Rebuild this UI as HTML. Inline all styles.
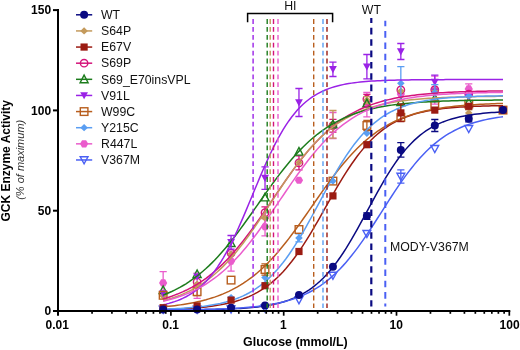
<!DOCTYPE html>
<html><head><meta charset="utf-8"><title>GCK Enzyme Activity</title>
<style>html,body{margin:0;padding:0;background:#fff}svg{display:block}</style></head>
<body>
<svg width="520" height="350" viewBox="0 0 520 350" font-family="'Liberation Sans', sans-serif">
<rect width="520" height="350" fill="#fff"/>
<g id="m-V367M">
<path d="M400.84,169.90V183.10M397.24,169.90H404.44M397.24,183.10H404.44" stroke="#4a60f4" stroke-width="1.3" fill="none"/>
<polygon points="159.25,306.30 167.05,306.30 163.15,313.40" fill="none" stroke="#4a60f4" stroke-width="1.4" stroke-linejoin="miter"/>
<polygon points="193.21,306.30 201.01,306.30 197.11,313.40" fill="none" stroke="#4a60f4" stroke-width="1.4" stroke-linejoin="miter"/>
<polygon points="227.16,305.90 234.96,305.90 231.06,313.00" fill="none" stroke="#4a60f4" stroke-width="1.4" stroke-linejoin="miter"/>
<polygon points="261.12,304.90 268.92,304.90 265.02,312.00" fill="none" stroke="#4a60f4" stroke-width="1.4" stroke-linejoin="miter"/>
<polygon points="295.07,296.70 302.87,296.70 298.97,303.80" fill="none" stroke="#4a60f4" stroke-width="1.4" stroke-linejoin="miter"/>
<polygon points="329.03,272.30 336.83,272.30 332.93,279.40" fill="none" stroke="#4a60f4" stroke-width="1.4" stroke-linejoin="miter"/>
<polygon points="362.99,230.50 370.79,230.50 366.89,237.60" fill="none" stroke="#4a60f4" stroke-width="1.4" stroke-linejoin="miter"/>
<polygon points="396.94,173.30 404.74,173.30 400.84,180.40" fill="none" stroke="#4a60f4" stroke-width="1.4" stroke-linejoin="miter"/>
<polygon points="430.90,145.50 438.70,145.50 434.80,152.60" fill="none" stroke="#4a60f4" stroke-width="1.4" stroke-linejoin="miter"/>
<polygon points="464.85,125.50 472.65,125.50 468.75,132.60" fill="none" stroke="#4a60f4" stroke-width="1.4" stroke-linejoin="miter"/>
</g>
<g id="m-R447L">
<path d="M163.15,271.70V294.10M159.55,271.70H166.75M159.55,294.10H166.75" stroke="#ea5ccc" stroke-width="1.3" fill="none"/>
<path d="M197.11,273.10V298.30M193.51,273.10H200.71M193.51,298.30H200.71" stroke="#ea5ccc" stroke-width="1.3" fill="none"/>
<path d="M231.06,251.10V271.10M227.46,251.10H234.66M227.46,271.10H234.66" stroke="#ea5ccc" stroke-width="1.3" fill="none"/>
<path d="M265.02,217.50V235.90M261.42,217.50H268.62M261.42,235.90H268.62" stroke="#ea5ccc" stroke-width="1.3" fill="none"/>
<path d="M332.93,112.50V138.50M329.33,112.50H336.53M329.33,138.50H336.53" stroke="#ea5ccc" stroke-width="1.3" fill="none"/>
<path d="M366.89,92.50V116.90M363.29,92.50H370.49M363.29,116.90H370.49" stroke="#ea5ccc" stroke-width="1.3" fill="none"/>
<path d="M434.80,76.10V104.10M431.20,76.10H438.40M431.20,104.10H438.40" stroke="#ea5ccc" stroke-width="1.3" fill="none"/>
<path d="M468.75,83.90V93.90M465.15,83.90H472.35M465.15,93.90H472.35" stroke="#ea5ccc" stroke-width="1.3" fill="none"/>
<polygon points="167.25,282.90 165.20,286.45 161.10,286.45 159.05,282.90 161.10,279.35 165.20,279.35" fill="#ea5ccc"/>
<polygon points="201.21,285.70 199.16,289.25 195.06,289.25 193.01,285.70 195.06,282.15 199.16,282.15" fill="#ea5ccc"/>
<polygon points="235.16,261.10 233.11,264.65 229.01,264.65 226.96,261.10 229.01,257.55 233.11,257.55" fill="#ea5ccc"/>
<polygon points="269.12,226.70 267.07,230.25 262.97,230.25 260.92,226.70 262.97,223.15 267.07,223.15" fill="#ea5ccc"/>
<polygon points="303.07,180.30 301.02,183.85 296.92,183.85 294.87,180.30 296.92,176.75 301.02,176.75" fill="#ea5ccc"/>
<polygon points="337.03,125.50 334.98,129.05 330.88,129.05 328.83,125.50 330.88,121.95 334.98,121.95" fill="#ea5ccc"/>
<polygon points="370.99,104.70 368.94,108.25 364.84,108.25 362.79,104.70 364.84,101.15 368.94,101.15" fill="#ea5ccc"/>
<polygon points="404.94,94.10 402.89,97.65 398.79,97.65 396.74,94.10 398.79,90.55 402.89,90.55" fill="#ea5ccc"/>
<polygon points="438.90,90.10 436.85,93.65 432.75,93.65 430.70,90.10 432.75,86.55 436.85,86.55" fill="#ea5ccc"/>
<polygon points="472.85,88.90 470.80,92.45 466.70,92.45 464.65,88.90 466.70,85.35 470.80,85.35" fill="#ea5ccc"/>
</g>
<g id="m-S69P">
<path d="M265.02,206.90V218.50M261.42,206.90H268.62M261.42,218.50H268.62" stroke="#d4147a" stroke-width="1.3" fill="none"/>
<path d="M298.97,155.90V169.90M295.37,155.90H302.57M295.37,169.90H302.57" stroke="#d4147a" stroke-width="1.3" fill="none"/>
<path d="M332.93,119.30V132.10M329.33,119.30H336.53M329.33,132.10H336.53" stroke="#d4147a" stroke-width="1.3" fill="none"/>
<path d="M366.89,94.30V103.90M363.29,94.30H370.49M363.29,103.90H370.49" stroke="#d4147a" stroke-width="1.3" fill="none"/>
<circle cx="197.11" cy="282.10" r="3.70" fill="none" stroke="#d4147a" stroke-width="1.4"/>
<circle cx="231.06" cy="253.10" r="3.70" fill="none" stroke="#d4147a" stroke-width="1.4"/>
<circle cx="265.02" cy="212.70" r="3.70" fill="none" stroke="#d4147a" stroke-width="1.4"/>
<circle cx="298.97" cy="162.90" r="3.70" fill="none" stroke="#d4147a" stroke-width="1.4"/>
<circle cx="332.93" cy="125.70" r="3.70" fill="none" stroke="#d4147a" stroke-width="1.4"/>
<circle cx="366.89" cy="99.10" r="3.70" fill="none" stroke="#d4147a" stroke-width="1.4"/>
<circle cx="400.84" cy="89.90" r="3.70" fill="none" stroke="#d4147a" stroke-width="1.4"/>
<circle cx="434.80" cy="89.70" r="3.70" fill="none" stroke="#d4147a" stroke-width="1.4"/>
<circle cx="468.75" cy="94.10" r="3.70" fill="none" stroke="#d4147a" stroke-width="1.4"/>
</g>
<g id="m-S64P">
<path d="M332.93,110.50V138.10M329.33,110.50H336.53M329.33,138.10H336.53" stroke="#c49a5c" stroke-width="1.3" fill="none"/>
<path d="M366.89,96.70V103.50M363.29,96.70H370.49M363.29,103.50H370.49" stroke="#c49a5c" stroke-width="1.3" fill="none"/>
<path d="M468.75,109.90V115.90M465.15,109.90H472.35M465.15,115.90H472.35" stroke="#c49a5c" stroke-width="1.3" fill="none"/>
<polygon points="159.35,296.10 163.15,292.50 166.95,296.10 163.15,299.70" fill="#c49a5c"/>
<polygon points="193.31,284.10 197.11,280.50 200.91,284.10 197.11,287.70" fill="#c49a5c"/>
<polygon points="227.26,254.10 231.06,250.50 234.86,254.10 231.06,257.70" fill="#c49a5c"/>
<polygon points="261.22,218.10 265.02,214.50 268.82,218.10 265.02,221.70" fill="#c49a5c"/>
<polygon points="295.17,162.50 298.97,158.90 302.77,162.50 298.97,166.10" fill="#c49a5c"/>
<polygon points="329.13,124.30 332.93,120.70 336.73,124.30 332.93,127.90" fill="#c49a5c"/>
<polygon points="363.09,100.10 366.89,96.50 370.69,100.10 366.89,103.70" fill="#c49a5c"/>
<polygon points="397.04,91.10 400.84,87.50 404.64,91.10 400.84,94.70" fill="#c49a5c"/>
<polygon points="431.00,90.10 434.80,86.50 438.60,90.10 434.80,93.70" fill="#c49a5c"/>
<polygon points="464.95,112.90 468.75,109.30 472.55,112.90 468.75,116.50" fill="#c49a5c"/>
</g>
<g id="m-S69_E70insVPL">
<polygon points="159.15,293.50 167.15,293.50 163.15,285.90" fill="none" stroke="#1c7c1c" stroke-width="1.4" stroke-linejoin="miter"/>
<polygon points="193.11,277.50 201.11,277.50 197.11,269.90" fill="none" stroke="#1c7c1c" stroke-width="1.4" stroke-linejoin="miter"/>
<polygon points="227.06,246.50 235.06,246.50 231.06,238.90" fill="none" stroke="#1c7c1c" stroke-width="1.4" stroke-linejoin="miter"/>
<polygon points="261.02,200.90 269.02,200.90 265.02,193.30" fill="none" stroke="#1c7c1c" stroke-width="1.4" stroke-linejoin="miter"/>
<polygon points="294.97,155.10 302.97,155.10 298.97,147.50" fill="none" stroke="#1c7c1c" stroke-width="1.4" stroke-linejoin="miter"/>
<polygon points="328.93,127.90 336.93,127.90 332.93,120.30" fill="none" stroke="#1c7c1c" stroke-width="1.4" stroke-linejoin="miter"/>
<polygon points="362.89,106.70 370.89,106.70 366.89,99.10" fill="none" stroke="#1c7c1c" stroke-width="1.4" stroke-linejoin="miter"/>
<polygon points="396.84,105.50 404.84,105.50 400.84,97.90" fill="none" stroke="#1c7c1c" stroke-width="1.4" stroke-linejoin="miter"/>
<polygon points="430.80,101.90 438.80,101.90 434.80,94.30" fill="none" stroke="#1c7c1c" stroke-width="1.4" stroke-linejoin="miter"/>
<polygon points="464.75,105.50 472.75,105.50 468.75,97.90" fill="none" stroke="#1c7c1c" stroke-width="1.4" stroke-linejoin="miter"/>
</g>
<g id="m-V91L">
<path d="M231.06,235.50V249.10M227.46,235.50H234.66M227.46,249.10H234.66" stroke="#9a22e6" stroke-width="1.3" fill="none"/>
<path d="M265.02,166.90V189.30M261.42,166.90H268.62M261.42,189.30H268.62" stroke="#9a22e6" stroke-width="1.3" fill="none"/>
<path d="M298.97,88.50V116.50M295.37,88.50H302.57M295.37,116.50H302.57" stroke="#9a22e6" stroke-width="1.3" fill="none"/>
<path d="M332.93,62.10V76.50M329.33,62.10H336.53M329.33,76.50H336.53" stroke="#9a22e6" stroke-width="1.3" fill="none"/>
<path d="M366.89,54.50V78.90M363.29,54.50H370.49M363.29,78.90H370.49" stroke="#9a22e6" stroke-width="1.3" fill="none"/>
<path d="M400.84,43.50V59.50M397.24,43.50H404.44M397.24,59.50H404.44" stroke="#9a22e6" stroke-width="1.3" fill="none"/>
<path d="M434.80,75.10V89.10M431.20,75.10H438.40M431.20,89.10H438.40" stroke="#9a22e6" stroke-width="1.3" fill="none"/>
<polygon points="159.25,290.20 167.05,290.20 163.15,297.40" fill="#9a22e6"/>
<polygon points="193.21,273.40 201.01,273.40 197.11,280.60" fill="#9a22e6"/>
<polygon points="227.16,239.00 234.96,239.00 231.06,246.20" fill="#9a22e6"/>
<polygon points="261.12,174.80 268.92,174.80 265.02,182.00" fill="#9a22e6"/>
<polygon points="295.07,99.20 302.87,99.20 298.97,106.40" fill="#9a22e6"/>
<polygon points="329.03,66.00 336.83,66.00 332.93,73.20" fill="#9a22e6"/>
<polygon points="362.99,63.40 370.79,63.40 366.89,70.60" fill="#9a22e6"/>
<polygon points="396.94,48.20 404.74,48.20 400.84,55.40" fill="#9a22e6"/>
<polygon points="430.90,78.80 438.70,78.80 434.80,86.00" fill="#9a22e6"/>
<polygon points="464.85,93.80 472.65,93.80 468.75,101.00" fill="#9a22e6"/>
</g>
<g id="m-Y215C">
<path d="M298.97,233.90V241.90M295.37,233.90H302.57M295.37,241.90H302.57" stroke="#5a9ef2" stroke-width="1.3" fill="none"/>
<path d="M400.84,66.70V99.90M397.24,66.70H404.44M397.24,99.90H404.44" stroke="#5a9ef2" stroke-width="1.3" fill="none"/>
<path d="M434.80,84.70V100.70M431.20,84.70H438.40M431.20,100.70H438.40" stroke="#5a9ef2" stroke-width="1.3" fill="none"/>
<polygon points="159.35,308.10 163.15,304.50 166.95,308.10 163.15,311.70" fill="#5a9ef2"/>
<polygon points="193.31,306.10 197.11,302.50 200.91,306.10 197.11,309.70" fill="#5a9ef2"/>
<polygon points="227.26,297.50 231.06,293.90 234.86,297.50 231.06,301.10" fill="#5a9ef2"/>
<polygon points="261.22,277.60 265.02,274.00 268.82,277.60 265.02,281.20" fill="#5a9ef2"/>
<polygon points="295.17,237.90 298.97,234.30 302.77,237.90 298.97,241.50" fill="#5a9ef2"/>
<polygon points="329.13,181.10 332.93,177.50 336.73,181.10 332.93,184.70" fill="#5a9ef2"/>
<polygon points="363.09,133.30 366.89,129.70 370.69,133.30 366.89,136.90" fill="#5a9ef2"/>
<polygon points="397.04,83.30 400.84,79.70 404.64,83.30 400.84,86.90" fill="#5a9ef2"/>
<polygon points="431.00,92.70 434.80,89.10 438.60,92.70 434.80,96.30" fill="#5a9ef2"/>
<polygon points="464.95,96.10 468.75,92.50 472.55,96.10 468.75,99.70" fill="#5a9ef2"/>
</g>
<g id="m-W99C">
<path d="M197.11,287.70V295.70M193.51,287.70H200.71M193.51,295.70H200.71" stroke="#b85e1e" stroke-width="1.3" fill="none"/>
<path d="M265.02,263.90V275.10M261.42,263.90H268.62M261.42,275.10H268.62" stroke="#b85e1e" stroke-width="1.3" fill="none"/>
<path d="M366.89,120.50V130.50M363.29,120.50H370.49M363.29,130.50H370.49" stroke="#b85e1e" stroke-width="1.3" fill="none"/>
<rect x="159.35" y="291.50" width="7.60" height="7.60" fill="none" stroke="#b85e1e" stroke-width="1.4"/>
<rect x="193.31" y="287.90" width="7.60" height="7.60" fill="none" stroke="#b85e1e" stroke-width="1.4"/>
<rect x="227.26" y="276.30" width="7.60" height="7.60" fill="none" stroke="#b85e1e" stroke-width="1.4"/>
<rect x="261.22" y="265.70" width="7.60" height="7.60" fill="none" stroke="#b85e1e" stroke-width="1.4"/>
<rect x="295.17" y="225.70" width="7.60" height="7.60" fill="none" stroke="#b85e1e" stroke-width="1.4"/>
<rect x="329.13" y="177.30" width="7.60" height="7.60" fill="none" stroke="#b85e1e" stroke-width="1.4"/>
<rect x="363.09" y="121.70" width="7.60" height="7.60" fill="none" stroke="#b85e1e" stroke-width="1.4"/>
<rect x="397.04" y="113.50" width="7.60" height="7.60" fill="none" stroke="#b85e1e" stroke-width="1.4"/>
<rect x="431.00" y="100.90" width="7.60" height="7.60" fill="none" stroke="#b85e1e" stroke-width="1.4"/>
<rect x="464.95" y="100.30" width="7.60" height="7.60" fill="none" stroke="#b85e1e" stroke-width="1.4"/>
<rect x="499.21" y="106.30" width="7.60" height="7.60" fill="none" stroke="#b85e1e" stroke-width="1.4"/>
</g>
<polyline id="c-WT" points="163.15,310.00 166.01,309.99 168.86,309.98 171.72,309.97 174.57,309.95 177.43,309.94 180.29,309.92 183.14,309.90 186.00,309.87 188.85,309.85 191.71,309.82 194.57,309.79 197.42,309.75 200.28,309.71 203.13,309.67 205.99,309.62 208.85,309.57 211.70,309.51 214.56,309.44 217.41,309.37 220.27,309.29 223.13,309.20 225.98,309.10 228.84,308.98 231.69,308.86 234.55,308.72 237.41,308.57 240.26,308.39 243.12,308.20 245.97,307.99 248.83,307.76 251.68,307.50 254.54,307.21 257.40,306.89 260.25,306.54 263.11,306.14 265.96,305.71 268.82,305.22 271.68,304.69 274.53,304.10 277.39,303.45 280.24,302.73 283.10,301.93 285.96,301.05 288.81,300.09 291.67,299.02 294.52,297.85 297.38,296.57 300.24,295.16 303.09,293.61 305.95,291.93 308.80,290.09 311.66,288.09 314.52,285.91 317.37,283.55 320.23,281.00 323.08,278.24 325.94,275.29 328.80,272.11 331.65,268.73 334.51,265.12 337.36,261.30 340.22,257.26 343.08,253.02 345.93,248.57 348.79,243.95 351.64,239.15 354.50,234.20 357.36,229.13 360.21,223.96 363.07,218.70 365.92,213.41 368.78,208.09 371.64,202.79 374.49,197.53 377.35,192.34 380.20,187.26 383.06,182.29 385.92,177.48 388.77,172.82 391.63,168.36 394.48,164.09 397.34,160.02 400.20,156.17 403.05,152.54 405.91,149.12 408.76,145.92 411.62,142.93 414.48,140.15 417.33,137.58 420.19,135.19 423.04,132.99 425.90,130.96 428.75,129.10 431.61,127.40 434.47,125.84 437.32,124.41 440.18,123.11 443.03,121.93 445.89,120.85 448.75,119.87 451.60,118.98 454.46,118.17 457.31,117.44 460.17,116.78 463.03,116.18 465.88,115.64 468.74,115.15 471.59,114.71 474.45,114.31 477.31,113.95 480.16,113.63 483.02,113.34 485.87,113.07 488.73,112.84 491.59,112.62 494.44,112.43 497.30,112.25 500.15,112.10 503.01,111.96" fill="none" stroke="#0a0a82" stroke-width="1.5"/>
<polyline id="c-E67V" points="163.15,309.36 166.01,309.28 168.86,309.20 171.72,309.11 174.57,309.00 177.43,308.89 180.29,308.77 183.14,308.63 186.00,308.48 188.85,308.31 191.71,308.13 194.57,307.92 197.42,307.70 200.28,307.45 203.13,307.18 205.99,306.88 208.85,306.55 211.70,306.19 214.56,305.79 217.41,305.35 220.27,304.87 223.13,304.34 225.98,303.76 228.84,303.13 231.69,302.43 234.55,301.66 237.41,300.82 240.26,299.91 243.12,298.91 245.97,297.81 248.83,296.62 251.68,295.31 254.54,293.90 257.40,292.36 260.25,290.69 263.11,288.88 265.96,286.92 268.82,284.81 271.68,282.53 274.53,280.08 277.39,277.45 280.24,274.65 283.10,271.65 285.96,268.46 288.81,265.08 291.67,261.51 294.52,257.75 297.38,253.80 300.24,249.67 303.09,245.37 305.95,240.91 308.80,236.30 311.66,231.56 314.52,226.72 317.37,221.78 320.23,216.78 323.08,211.73 325.94,206.66 328.80,201.60 331.65,196.57 334.51,191.59 337.36,186.69 340.22,181.88 343.08,177.19 345.93,172.64 348.79,168.24 351.64,164.01 354.50,159.95 357.36,156.07 360.21,152.38 363.07,148.88 365.92,145.57 368.78,142.46 371.64,139.54 374.49,136.80 377.35,134.24 380.20,131.86 383.06,129.65 385.92,127.60 388.77,125.70 391.63,123.94 394.48,122.32 397.34,120.83 400.20,119.46 403.05,118.20 405.91,117.05 408.76,115.99 411.62,115.02 414.48,114.13 417.33,113.33 420.19,112.59 423.04,111.91 425.90,111.30 428.75,110.74 431.61,110.23 434.47,109.76 437.32,109.34 440.18,108.96 443.03,108.61 445.89,108.29 448.75,108.00 451.60,107.74 454.46,107.51 457.31,107.29 460.17,107.09 463.03,106.92 465.88,106.75 468.74,106.61 471.59,106.48 474.45,106.36 477.31,106.25 480.16,106.15 483.02,106.06 485.87,105.98 488.73,105.90 491.59,105.84 494.44,105.78 497.30,105.72 500.15,105.67 503.01,105.63" fill="none" stroke="#9b1b12" stroke-width="1.5"/>
<polyline id="c-S69P" points="163.15,298.92 166.01,298.07 168.86,297.17 171.72,296.21 174.57,295.17 177.43,294.07 180.29,292.89 183.14,291.64 186.00,290.30 188.85,288.87 191.71,287.36 194.57,285.74 197.42,284.03 200.28,282.22 203.13,280.30 205.99,278.27 208.85,276.12 211.70,273.86 214.56,271.48 217.41,268.98 220.27,266.35 223.13,263.60 225.98,260.73 228.84,257.73 231.69,254.61 234.55,251.37 237.41,248.01 240.26,244.54 243.12,240.96 245.97,237.27 248.83,233.49 251.68,229.62 254.54,225.67 257.40,221.65 260.25,217.57 263.11,213.44 265.96,209.27 268.82,205.08 271.68,200.87 274.53,196.66 277.39,192.46 280.24,188.28 283.10,184.14 285.96,180.05 288.81,176.01 291.67,172.04 294.52,168.14 297.38,164.34 300.24,160.62 303.09,157.01 305.95,153.51 308.80,150.12 311.66,146.84 314.52,143.69 317.37,140.65 320.23,137.75 323.08,134.96 325.94,132.30 328.80,129.76 331.65,127.35 334.51,125.05 337.36,122.87 340.22,120.81 343.08,118.86 345.93,117.01 348.79,115.27 351.64,113.63 354.50,112.09 357.36,110.64 360.21,109.28 363.07,108.00 365.92,106.80 368.78,105.67 371.64,104.62 374.49,103.64 377.35,102.72 380.20,101.86 383.06,101.06 385.92,100.31 388.77,99.61 391.63,98.96 394.48,98.35 397.34,97.79 400.20,97.26 403.05,96.77 405.91,96.32 408.76,95.89 411.62,95.50 414.48,95.14 417.33,94.80 420.19,94.48 423.04,94.19 425.90,93.91 428.75,93.66 431.61,93.43 434.47,93.21 437.32,93.01 440.18,92.82 443.03,92.65 445.89,92.48 448.75,92.34 451.60,92.20 454.46,92.07 457.31,91.95 460.17,91.84 463.03,91.74 465.88,91.64 468.74,91.55 471.59,91.47 474.45,91.39 477.31,91.32 480.16,91.26 483.02,91.20 485.87,91.14 488.73,91.09 491.59,91.04 494.44,91.00 497.30,90.96 500.15,90.92 503.01,90.88" fill="none" stroke="#d4147a" stroke-width="1.5"/>
<polyline id="c-S64P" points="163.15,300.66 166.01,299.89 168.86,299.07 171.72,298.18 174.57,297.22 177.43,296.20 180.29,295.10 183.14,293.92 186.00,292.65 188.85,291.30 191.71,289.85 194.57,288.30 197.42,286.65 200.28,284.89 203.13,283.01 205.99,281.02 208.85,278.90 211.70,276.66 214.56,274.29 217.41,271.79 220.27,269.15 223.13,266.38 225.98,263.47 228.84,260.42 231.69,257.23 234.55,253.91 237.41,250.46 240.26,246.88 243.12,243.18 245.97,239.37 248.83,235.45 251.68,231.43 254.54,227.32 257.40,223.14 260.25,218.89 263.11,214.59 265.96,210.25 268.82,205.89 271.68,201.51 274.53,197.15 277.39,192.80 280.24,188.49 283.10,184.22 285.96,180.02 288.81,175.89 291.67,171.84 294.52,167.89 297.38,164.04 300.24,160.31 303.09,156.70 305.95,153.21 308.80,149.85 311.66,146.63 314.52,143.54 317.37,140.59 320.23,137.77 323.08,135.10 325.94,132.56 328.80,130.15 331.65,127.87 334.51,125.72 337.36,123.69 340.22,121.78 343.08,119.99 345.93,118.30 348.79,116.73 351.64,115.25 354.50,113.87 357.36,112.58 360.21,111.37 363.07,110.25 365.92,109.20 368.78,108.23 371.64,107.32 374.49,106.48 377.35,105.70 380.20,104.97 383.06,104.30 385.92,103.67 388.77,103.09 391.63,102.56 394.48,102.06 397.34,101.60 400.20,101.18 403.05,100.78 405.91,100.42 408.76,100.08 411.62,99.77 414.48,99.48 417.33,99.21 420.19,98.97 423.04,98.74 425.90,98.53 428.75,98.34 431.61,98.16 434.47,98.00 437.32,97.84 440.18,97.70 443.03,97.57 445.89,97.45 448.75,97.34 451.60,97.24 454.46,97.15 457.31,97.06 460.17,96.98 463.03,96.91 465.88,96.84 468.74,96.78 471.59,96.72 474.45,96.67 477.31,96.62 480.16,96.57 483.02,96.53 485.87,96.49 488.73,96.46 491.59,96.42 494.44,96.39 497.30,96.37 500.15,96.34 503.01,96.32" fill="none" stroke="#c49a5c" stroke-width="1.5"/>
<polyline id="c-S69_E70insVPL" points="163.15,295.09 166.01,293.97 168.86,292.77 171.72,291.50 174.57,290.14 177.43,288.69 180.29,287.15 183.14,285.51 186.00,283.78 188.85,281.93 191.71,279.98 194.57,277.92 197.42,275.75 200.28,273.46 203.13,271.05 205.99,268.52 208.85,265.87 211.70,263.09 214.56,260.20 217.41,257.18 220.27,254.05 223.13,250.79 225.98,247.43 228.84,243.96 231.69,240.39 234.55,236.72 237.41,232.97 240.26,229.14 243.12,225.24 245.97,221.28 248.83,217.27 251.68,213.23 254.54,209.16 257.40,205.08 260.25,201.00 263.11,196.93 265.96,192.88 268.82,188.87 271.68,184.91 274.53,181.00 277.39,177.16 280.24,173.41 283.10,169.73 285.96,166.16 288.81,162.68 291.67,159.31 294.52,156.05 297.38,152.91 300.24,149.88 303.09,146.98 305.95,144.20 308.80,141.54 311.66,139.00 314.52,136.58 317.37,134.28 320.23,132.10 323.08,130.03 325.94,128.07 328.80,126.22 331.65,124.48 334.51,122.84 337.36,121.29 340.22,119.84 343.08,118.47 345.93,117.19 348.79,115.99 351.64,114.86 354.50,113.81 357.36,112.83 360.21,111.91 363.07,111.05 365.92,110.25 368.78,109.50 371.64,108.81 374.49,108.16 377.35,107.56 380.20,107.00 383.06,106.47 385.92,105.99 388.77,105.54 391.63,105.12 394.48,104.73 397.34,104.37 400.20,104.03 403.05,103.72 405.91,103.43 408.76,103.16 411.62,102.91 414.48,102.68 417.33,102.47 420.19,102.27 423.04,102.08 425.90,101.91 428.75,101.76 431.61,101.61 434.47,101.47 437.32,101.35 440.18,101.23 443.03,101.12 445.89,101.02 448.75,100.93 451.60,100.85 454.46,100.77 457.31,100.69 460.17,100.62 463.03,100.56 465.88,100.50 468.74,100.45 471.59,100.40 474.45,100.35 477.31,100.31 480.16,100.27 483.02,100.23 485.87,100.20 488.73,100.17 491.59,100.14 494.44,100.11 497.30,100.09 500.15,100.06 503.01,100.04" fill="none" stroke="#1c7c1c" stroke-width="1.5"/>
<polyline id="c-V91L" points="163.15,304.79 166.01,304.13 168.86,303.40 171.72,302.57 174.57,301.65 177.43,300.62 180.29,299.47 183.14,298.19 186.00,296.76 188.85,295.17 191.71,293.41 194.57,291.46 197.42,289.31 200.28,286.93 203.13,284.31 205.99,281.44 208.85,278.30 211.70,274.87 214.56,271.15 217.41,267.12 220.27,262.77 223.13,258.11 225.98,253.13 228.84,247.84 231.69,242.26 234.55,236.39 237.41,230.26 240.26,223.90 243.12,217.35 245.97,210.64 248.83,203.82 251.68,196.94 254.54,190.04 257.40,183.18 260.25,176.40 263.11,169.75 265.96,163.27 268.82,156.99 271.68,150.96 274.53,145.20 277.39,139.73 280.24,134.56 283.10,129.70 285.96,125.16 288.81,120.94 291.67,117.03 294.52,113.42 297.38,110.11 300.24,107.07 303.09,104.30 305.95,101.77 308.80,99.48 311.66,97.41 314.52,95.53 317.37,93.84 320.23,92.32 323.08,90.95 325.94,89.72 328.80,88.62 331.65,87.63 334.51,86.75 337.36,85.96 340.22,85.25 343.08,84.62 345.93,84.06 348.79,83.56 351.64,83.12 354.50,82.72 357.36,82.37 360.21,82.05 363.07,81.77 365.92,81.52 368.78,81.30 371.64,81.11 374.49,80.93 377.35,80.78 380.20,80.64 383.06,80.52 385.92,80.41 388.77,80.31 391.63,80.23 394.48,80.15 397.34,80.08 400.20,80.02 403.05,79.97 405.91,79.92 408.76,79.88 411.62,79.84 414.48,79.81 417.33,79.78 420.19,79.75 423.04,79.73 425.90,79.71 428.75,79.69 431.61,79.68 434.47,79.66 437.32,79.65 440.18,79.64 443.03,79.63 445.89,79.62 448.75,79.61 451.60,79.60 454.46,79.60 457.31,79.59 460.17,79.59 463.03,79.58 465.88,79.58 468.74,79.58 471.59,79.57 474.45,79.57 477.31,79.57 480.16,79.57 483.02,79.56 485.87,79.56 488.73,79.56 491.59,79.56 494.44,79.56 497.30,79.56 500.15,79.56 503.01,79.56" fill="none" stroke="#9a22e6" stroke-width="1.5"/>
<polyline id="c-W99C" points="163.15,306.83 166.01,306.56 168.86,306.27 171.72,305.96 174.57,305.63 177.43,305.27 180.29,304.88 183.14,304.46 186.00,304.01 188.85,303.52 191.71,303.00 194.57,302.43 197.42,301.83 200.28,301.17 203.13,300.47 205.99,299.72 208.85,298.90 211.70,298.03 214.56,297.10 217.41,296.10 220.27,295.03 223.13,293.88 225.98,292.65 228.84,291.34 231.69,289.95 234.55,288.45 237.41,286.87 240.26,285.18 243.12,283.39 245.97,281.49 248.83,279.47 251.68,277.34 254.54,275.09 257.40,272.72 260.25,270.23 263.11,267.61 265.96,264.87 268.82,262.00 271.68,259.01 274.53,255.89 277.39,252.65 280.24,249.30 283.10,245.83 285.96,242.26 288.81,238.59 291.67,234.82 294.52,230.98 297.38,227.06 300.24,223.07 303.09,219.04 305.95,214.96 308.80,210.86 311.66,206.75 314.52,202.63 317.37,198.52 320.23,194.44 323.08,190.40 325.94,186.40 328.80,182.46 331.65,178.60 334.51,174.81 337.36,171.12 340.22,167.52 343.08,164.03 345.93,160.65 348.79,157.38 351.64,154.24 354.50,151.21 357.36,148.31 360.21,145.54 363.07,142.89 365.92,140.37 368.78,137.97 371.64,135.69 374.49,133.53 377.35,131.49 380.20,129.56 383.06,127.74 385.92,126.03 388.77,124.42 391.63,122.91 394.48,121.49 397.34,120.16 400.20,118.91 403.05,117.74 405.91,116.65 408.76,115.64 411.62,114.69 414.48,113.80 417.33,112.98 420.19,112.21 423.04,111.49 425.90,110.83 428.75,110.21 431.61,109.63 434.47,109.10 437.32,108.61 440.18,108.15 443.03,107.72 445.89,107.32 448.75,106.96 451.60,106.62 454.46,106.30 457.31,106.01 460.17,105.74 463.03,105.49 465.88,105.25 468.74,105.04 471.59,104.84 474.45,104.66 477.31,104.49 480.16,104.33 483.02,104.18 485.87,104.05 488.73,103.92 491.59,103.81 494.44,103.70 497.30,103.60 500.15,103.51 503.01,103.43" fill="none" stroke="#b85e1e" stroke-width="1.5"/>
<polyline id="c-Y215C" points="163.15,309.16 166.01,309.06 168.86,308.95 171.72,308.83 174.57,308.70 177.43,308.56 180.29,308.40 183.14,308.22 186.00,308.03 188.85,307.81 191.71,307.58 194.57,307.32 197.42,307.03 200.28,306.72 203.13,306.37 205.99,305.99 208.85,305.57 211.70,305.11 214.56,304.60 217.41,304.04 220.27,303.43 223.13,302.75 225.98,302.02 228.84,301.21 231.69,300.32 234.55,299.35 237.41,298.29 240.26,297.13 243.12,295.87 245.97,294.49 248.83,292.99 251.68,291.36 254.54,289.59 257.40,287.67 260.25,285.60 263.11,283.36 265.96,280.95 268.82,278.35 271.68,275.57 274.53,272.60 277.39,269.42 280.24,266.05 283.10,262.47 285.96,258.69 288.81,254.71 291.67,250.53 294.52,246.16 297.38,241.62 300.24,236.90 303.09,232.04 305.95,227.05 308.80,221.94 311.66,216.74 314.52,211.47 317.37,206.16 320.23,200.83 323.08,195.51 325.94,190.23 328.80,185.01 331.65,179.87 334.51,174.84 337.36,169.94 340.22,165.19 343.08,160.60 345.93,156.18 348.79,151.96 351.64,147.92 354.50,144.08 357.36,140.45 360.21,137.02 363.07,133.80 365.92,130.77 368.78,127.94 371.64,125.29 374.49,122.83 377.35,120.55 380.20,118.43 383.06,116.47 385.92,114.66 388.77,113.00 391.63,111.46 394.48,110.06 397.34,108.76 400.20,107.58 403.05,106.49 405.91,105.50 408.76,104.59 411.62,103.76 414.48,103.00 417.33,102.31 420.19,101.69 423.04,101.11 425.90,100.59 428.75,100.12 431.61,99.69 434.47,99.30 437.32,98.94 440.18,98.62 443.03,98.32 445.89,98.06 448.75,97.81 451.60,97.59 454.46,97.40 457.31,97.21 460.17,97.05 463.03,96.90 465.88,96.77 468.74,96.65 471.59,96.53 474.45,96.43 477.31,96.34 480.16,96.26 483.02,96.19 485.87,96.12 488.73,96.06 491.59,96.00 494.44,95.95 497.30,95.91 500.15,95.86 503.01,95.83" fill="none" stroke="#5a9ef2" stroke-width="1.5"/>
<polyline id="c-R447L" points="163.15,301.24 166.01,300.55 168.86,299.82 171.72,299.03 174.57,298.18 177.43,297.28 180.29,296.31 183.14,295.27 186.00,294.16 188.85,292.97 191.71,291.70 194.57,290.35 197.42,288.91 200.28,287.37 203.13,285.74 205.99,284.01 208.85,282.17 211.70,280.23 214.56,278.16 217.41,275.99 220.27,273.69 223.13,271.27 225.98,268.73 228.84,266.06 231.69,263.27 234.55,260.35 237.41,257.30 240.26,254.13 243.12,250.83 245.97,247.42 248.83,243.89 251.68,240.26 254.54,236.51 257.40,232.68 260.25,228.75 263.11,224.75 265.96,220.68 268.82,216.55 271.68,212.38 274.53,208.17 277.39,203.94 280.24,199.70 283.10,195.47 285.96,191.25 288.81,187.06 291.67,182.91 294.52,178.82 297.38,174.79 300.24,170.83 303.09,166.96 305.95,163.18 308.80,159.50 311.66,155.93 314.52,152.47 317.37,149.12 320.23,145.90 323.08,142.81 325.94,139.83 328.80,136.99 331.65,134.27 334.51,131.68 337.36,129.21 340.22,126.86 343.08,124.64 345.93,122.53 348.79,120.54 351.64,118.66 354.50,116.88 357.36,115.21 360.21,113.64 363.07,112.16 365.92,110.77 368.78,109.47 371.64,108.25 374.49,107.11 377.35,106.05 380.20,105.05 383.06,104.12 385.92,103.25 388.77,102.44 391.63,101.68 394.48,100.98 397.34,100.32 400.20,99.71 403.05,99.14 405.91,98.61 408.76,98.12 411.62,97.66 414.48,97.24 417.33,96.84 420.19,96.48 423.04,96.14 425.90,95.82 428.75,95.53 431.61,95.26 434.47,95.01 437.32,94.77 440.18,94.56 443.03,94.36 445.89,94.17 448.75,94.00 451.60,93.84 454.46,93.69 457.31,93.55 460.17,93.43 463.03,93.31 465.88,93.20 468.74,93.10 471.59,93.01 474.45,92.92 477.31,92.84 480.16,92.76 483.02,92.70 485.87,92.63 488.73,92.57 491.59,92.52 494.44,92.47 497.30,92.42 500.15,92.38 503.01,92.34" fill="none" stroke="#ea5ccc" stroke-width="1.5"/>
<polyline id="c-V367M" points="163.15,309.91 166.01,309.89 168.86,309.87 171.72,309.85 174.57,309.83 177.43,309.80 180.29,309.78 183.14,309.75 186.00,309.71 188.85,309.68 191.71,309.64 194.57,309.59 197.42,309.54 200.28,309.49 203.13,309.43 205.99,309.37 208.85,309.30 211.70,309.22 214.56,309.14 217.41,309.05 220.27,308.95 223.13,308.84 225.98,308.72 228.84,308.59 231.69,308.45 234.55,308.30 237.41,308.13 240.26,307.94 243.12,307.74 245.97,307.52 248.83,307.27 251.68,307.01 254.54,306.72 257.40,306.41 260.25,306.06 263.11,305.69 265.96,305.28 268.82,304.83 271.68,304.35 274.53,303.82 277.39,303.24 280.24,302.61 283.10,301.93 285.96,301.19 288.81,300.38 291.67,299.51 294.52,298.56 297.38,297.53 300.24,296.42 303.09,295.21 305.95,293.92 308.80,292.51 311.66,291.00 314.52,289.38 317.37,287.63 320.23,285.76 323.08,283.75 325.94,281.61 328.80,279.32 331.65,276.89 334.51,274.30 337.36,271.56 340.22,268.67 343.08,265.62 345.93,262.41 348.79,259.05 351.64,255.53 354.50,251.88 357.36,248.08 360.21,244.15 363.07,240.10 365.92,235.95 368.78,231.70 371.64,227.37 374.49,222.97 377.35,218.53 380.20,214.06 383.06,209.57 385.92,205.10 388.77,200.65 391.63,196.24 394.48,191.90 397.34,187.63 400.20,183.45 403.05,179.38 405.91,175.43 408.76,171.61 411.62,167.92 414.48,164.38 417.33,160.99 420.19,157.75 423.04,154.66 425.90,151.74 428.75,148.97 431.61,146.35 434.47,143.89 437.32,141.57 440.18,139.40 443.03,137.37 445.89,135.47 448.75,133.70 451.60,132.05 454.46,130.52 457.31,129.10 460.17,127.78 463.03,126.55 465.88,125.42 468.74,124.38 471.59,123.42 474.45,122.53 477.31,121.71 480.16,120.96 483.02,120.26 485.87,119.62 488.73,119.04 491.59,118.50 494.44,118.00 497.30,117.55 500.15,117.13 503.01,116.75" fill="none" stroke="#4a60f4" stroke-width="1.5"/>
<g id="m-E67V">
<path d="M400.84,104.10V121.70M397.24,104.10H404.44M397.24,121.70H404.44" stroke="#9b1b12" stroke-width="1.3" fill="none"/>
<rect x="159.55" y="304.10" width="7.20" height="7.20" fill="#9b1b12"/>
<rect x="193.51" y="302.30" width="7.20" height="7.20" fill="#9b1b12"/>
<rect x="227.46" y="296.50" width="7.20" height="7.20" fill="#9b1b12"/>
<rect x="261.42" y="282.10" width="7.20" height="7.20" fill="#9b1b12"/>
<rect x="295.37" y="247.90" width="7.20" height="7.20" fill="#9b1b12"/>
<rect x="329.33" y="192.30" width="7.20" height="7.20" fill="#9b1b12"/>
<rect x="363.29" y="141.10" width="7.20" height="7.20" fill="#9b1b12"/>
<rect x="397.24" y="109.30" width="7.20" height="7.20" fill="#9b1b12"/>
<rect x="431.20" y="106.50" width="7.20" height="7.20" fill="#9b1b12"/>
<rect x="465.15" y="102.70" width="7.20" height="7.20" fill="#9b1b12"/>
<rect x="499.41" y="106.50" width="7.20" height="7.20" fill="#9b1b12"/>
</g>
<g id="m-WT">
<path d="M366.89,212.90V219.30M363.29,212.90H370.49M363.29,219.30H370.49" stroke="#0a0a82" stroke-width="1.3" fill="none"/>
<path d="M400.84,142.70V157.10M397.24,142.70H404.44M397.24,157.10H404.44" stroke="#0a0a82" stroke-width="1.3" fill="none"/>
<path d="M434.80,119.50V131.50M431.20,119.50H438.40M431.20,131.50H438.40" stroke="#0a0a82" stroke-width="1.3" fill="none"/>
<path d="M468.75,115.50V121.90M465.15,115.50H472.35M465.15,121.90H472.35" stroke="#0a0a82" stroke-width="1.3" fill="none"/>
<circle cx="163.15" cy="309.50" r="4.00" fill="#0a0a82"/>
<circle cx="197.11" cy="309.50" r="4.00" fill="#0a0a82"/>
<circle cx="231.06" cy="307.70" r="4.00" fill="#0a0a82"/>
<circle cx="265.02" cy="305.50" r="4.00" fill="#0a0a82"/>
<circle cx="298.97" cy="294.90" r="4.00" fill="#0a0a82"/>
<circle cx="332.93" cy="266.70" r="4.00" fill="#0a0a82"/>
<circle cx="366.89" cy="216.10" r="4.00" fill="#0a0a82"/>
<circle cx="400.84" cy="149.90" r="4.00" fill="#0a0a82"/>
<circle cx="434.80" cy="125.50" r="4.00" fill="#0a0a82"/>
<circle cx="468.75" cy="118.70" r="4.00" fill="#0a0a82"/>
<circle cx="503.01" cy="110.10" r="4.00" fill="#0a0a82"/>
</g>
<line x1="371.3" y1="17.9" x2="371.3" y2="306.5" stroke="#0a0a82" stroke-width="2.2" stroke-dasharray="6.6 4.75" stroke-dashoffset="1.4"/>
<line x1="270.2" y1="19.1" x2="270.2" y2="308" stroke="#c49a5c" stroke-width="1.4" stroke-dasharray="4.8 3.1" stroke-dashoffset="0"/>
<line x1="327.0" y1="19.1" x2="327.0" y2="308" stroke="#9b1b12" stroke-width="1.4" stroke-dasharray="4.8 3.1" stroke-dashoffset="0"/>
<line x1="273.5" y1="19.1" x2="273.5" y2="308" stroke="#d4147a" stroke-width="1.4" stroke-dasharray="4.8 3.1" stroke-dashoffset="0"/>
<line x1="267.2" y1="19.1" x2="267.2" y2="308" stroke="#1c7c1c" stroke-width="1.4" stroke-dasharray="4.8 3.1" stroke-dashoffset="0"/>
<line x1="253.1" y1="19.1" x2="253.1" y2="308" stroke="#9a22e6" stroke-width="1.4" stroke-dasharray="4.8 3.1" stroke-dashoffset="0"/>
<line x1="313.7" y1="19.1" x2="313.7" y2="308" stroke="#b85e1e" stroke-width="1.4" stroke-dasharray="4.8 3.1" stroke-dashoffset="0"/>
<line x1="323.0" y1="19.1" x2="323.0" y2="308" stroke="#5a9ef2" stroke-width="1.4" stroke-dasharray="4.8 3.1" stroke-dashoffset="0"/>
<line x1="278.0" y1="19.1" x2="278.0" y2="308" stroke="#ea5ccc" stroke-width="1.4" stroke-dasharray="4.8 3.1" stroke-dashoffset="0"/>
<line x1="385.3" y1="20.8" x2="385.3" y2="306.5" stroke="#4a60f4" stroke-width="2.0" stroke-dasharray="6.6 4.75" stroke-dashoffset="1.1"/>
<g stroke="#000" stroke-width="2" fill="none">
<path d="M58.0,8.9V315.7"/>
<path d="M53.0,311.0H510.3"/>
<path d="M53.0,210.70H58.0"/>
<path d="M53.0,110.40H58.0"/>
<path d="M53.0,10.10H58.0"/>
</g>
<g stroke="#000" stroke-width="1.7" fill="none">
<path d="M92.06,311.0V313.8"/>
<path d="M111.92,311.0V313.8"/>
<path d="M126.01,311.0V313.8"/>
<path d="M136.94,311.0V313.8"/>
<path d="M145.88,311.0V313.8"/>
<path d="M153.43,311.0V313.8"/>
<path d="M159.97,311.0V313.8"/>
<path d="M165.74,311.0V313.8"/>
<path d="M170.90,311.0V315.7"/>
<path d="M204.86,311.0V313.8"/>
<path d="M224.72,311.0V313.8"/>
<path d="M238.81,311.0V313.8"/>
<path d="M249.74,311.0V313.8"/>
<path d="M258.68,311.0V313.8"/>
<path d="M266.23,311.0V313.8"/>
<path d="M272.77,311.0V313.8"/>
<path d="M278.54,311.0V313.8"/>
<path d="M283.70,311.0V315.7"/>
<path d="M317.66,311.0V313.8"/>
<path d="M337.52,311.0V313.8"/>
<path d="M351.61,311.0V313.8"/>
<path d="M362.54,311.0V313.8"/>
<path d="M371.48,311.0V313.8"/>
<path d="M379.03,311.0V313.8"/>
<path d="M385.57,311.0V313.8"/>
<path d="M391.34,311.0V313.8"/>
<path d="M396.50,311.0V315.7"/>
<path d="M430.46,311.0V313.8"/>
<path d="M450.32,311.0V313.8"/>
<path d="M464.41,311.0V313.8"/>
<path d="M475.34,311.0V313.8"/>
<path d="M484.28,311.0V313.8"/>
<path d="M491.83,311.0V313.8"/>
<path d="M498.37,311.0V313.8"/>
<path d="M504.14,311.0V313.8"/>
<path d="M509.30,311.0V315.7"/>
</g>
<g font-weight="bold" font-size="12px" fill="#000">
<text x="51.1" y="315.30" text-anchor="end">0</text>
<text x="51.1" y="215.00" text-anchor="end">50</text>
<text x="51.1" y="114.70" text-anchor="end">100</text>
<text x="51.1" y="14.40" text-anchor="end">150</text>
<text x="57.20" y="329.3" text-anchor="middle">0.01</text>
<text x="170.60" y="329.3" text-anchor="middle">0.1</text>
<text x="283.40" y="329.3" text-anchor="middle">1</text>
<text x="396.20" y="329.3" text-anchor="middle">10</text>
<text x="509.60" y="329.3" text-anchor="middle">100</text>
<text x="295.4" y="346" text-anchor="middle" font-size="12.4px">Glucose (mmol/L)</text>
<text transform="translate(10,160.8) rotate(-90)" text-anchor="middle" font-size="12px">GCK Enzyme Activity</text>
</g>
<text transform="translate(23.5,159.8) rotate(-90)" text-anchor="middle" font-size="11px" font-style="italic" fill="#333">(% of maximum)</text>
<g font-size="12.3px" fill="#111">
<text x="290.3" y="9.6" text-anchor="middle">HI</text>
<text x="371.4" y="14.3" text-anchor="middle">WT</text>
<text x="390" y="251.2">MODY-V367M</text>
</g>
<path d="M247.6,22.3V13.5H332.6V22.3" stroke="#000" stroke-width="1.5" fill="none"/>
<g font-size="12.3px" fill="#111">
<line x1="76" y1="14.80" x2="92.2" y2="14.80" stroke="#0a0a82" stroke-width="1.5"/>
<circle cx="84.10" cy="14.80" r="4.00" fill="#0a0a82"/>
<text x="101" y="19.10">WT</text>
<line x1="76" y1="30.93" x2="92.2" y2="30.93" stroke="#c49a5c" stroke-width="1.5"/>
<polygon points="80.30,30.93 84.10,27.33 87.90,30.93 84.10,34.53" fill="#c49a5c"/>
<text x="101" y="35.23">S64P</text>
<line x1="76" y1="47.06" x2="92.2" y2="47.06" stroke="#9b1b12" stroke-width="1.5"/>
<rect x="80.50" y="43.46" width="7.20" height="7.20" fill="#9b1b12"/>
<text x="101" y="51.36">E67V</text>
<line x1="76" y1="63.19" x2="92.2" y2="63.19" stroke="#d4147a" stroke-width="1.5"/>
<circle cx="84.10" cy="63.19" r="3.70" fill="none" stroke="#d4147a" stroke-width="1.4"/>
<text x="101" y="67.49">S69P</text>
<line x1="76" y1="79.32" x2="92.2" y2="79.32" stroke="#1c7c1c" stroke-width="1.5"/>
<polygon points="80.10,82.72 88.10,82.72 84.10,75.12" fill="none" stroke="#1c7c1c" stroke-width="1.4" stroke-linejoin="miter"/>
<text x="101" y="83.62">S69_E70insVPL</text>
<line x1="76" y1="95.45" x2="92.2" y2="95.45" stroke="#9a22e6" stroke-width="1.5"/>
<polygon points="80.20,92.15 88.00,92.15 84.10,99.35" fill="#9a22e6"/>
<text x="101" y="99.75">V91L</text>
<line x1="76" y1="111.58" x2="92.2" y2="111.58" stroke="#b85e1e" stroke-width="1.5"/>
<rect x="80.30" y="107.78" width="7.60" height="7.60" fill="none" stroke="#b85e1e" stroke-width="1.4"/>
<text x="101" y="115.88">W99C</text>
<line x1="76" y1="127.71" x2="92.2" y2="127.71" stroke="#5a9ef2" stroke-width="1.5"/>
<polygon points="80.30,127.71 84.10,124.11 87.90,127.71 84.10,131.31" fill="#5a9ef2"/>
<text x="101" y="132.01">Y215C</text>
<line x1="76" y1="143.84" x2="92.2" y2="143.84" stroke="#ea5ccc" stroke-width="1.5"/>
<polygon points="88.20,143.84 86.15,147.39 82.05,147.39 80.00,143.84 82.05,140.29 86.15,140.29" fill="#ea5ccc"/>
<text x="101" y="148.14">R447L</text>
<line x1="76" y1="159.97" x2="92.2" y2="159.97" stroke="#4a60f4" stroke-width="1.5"/>
<polygon points="80.20,156.77 88.00,156.77 84.10,163.87" fill="none" stroke="#4a60f4" stroke-width="1.4" stroke-linejoin="miter"/>
<text x="101" y="164.27">V367M</text>
</g>
</svg>
</body></html>
